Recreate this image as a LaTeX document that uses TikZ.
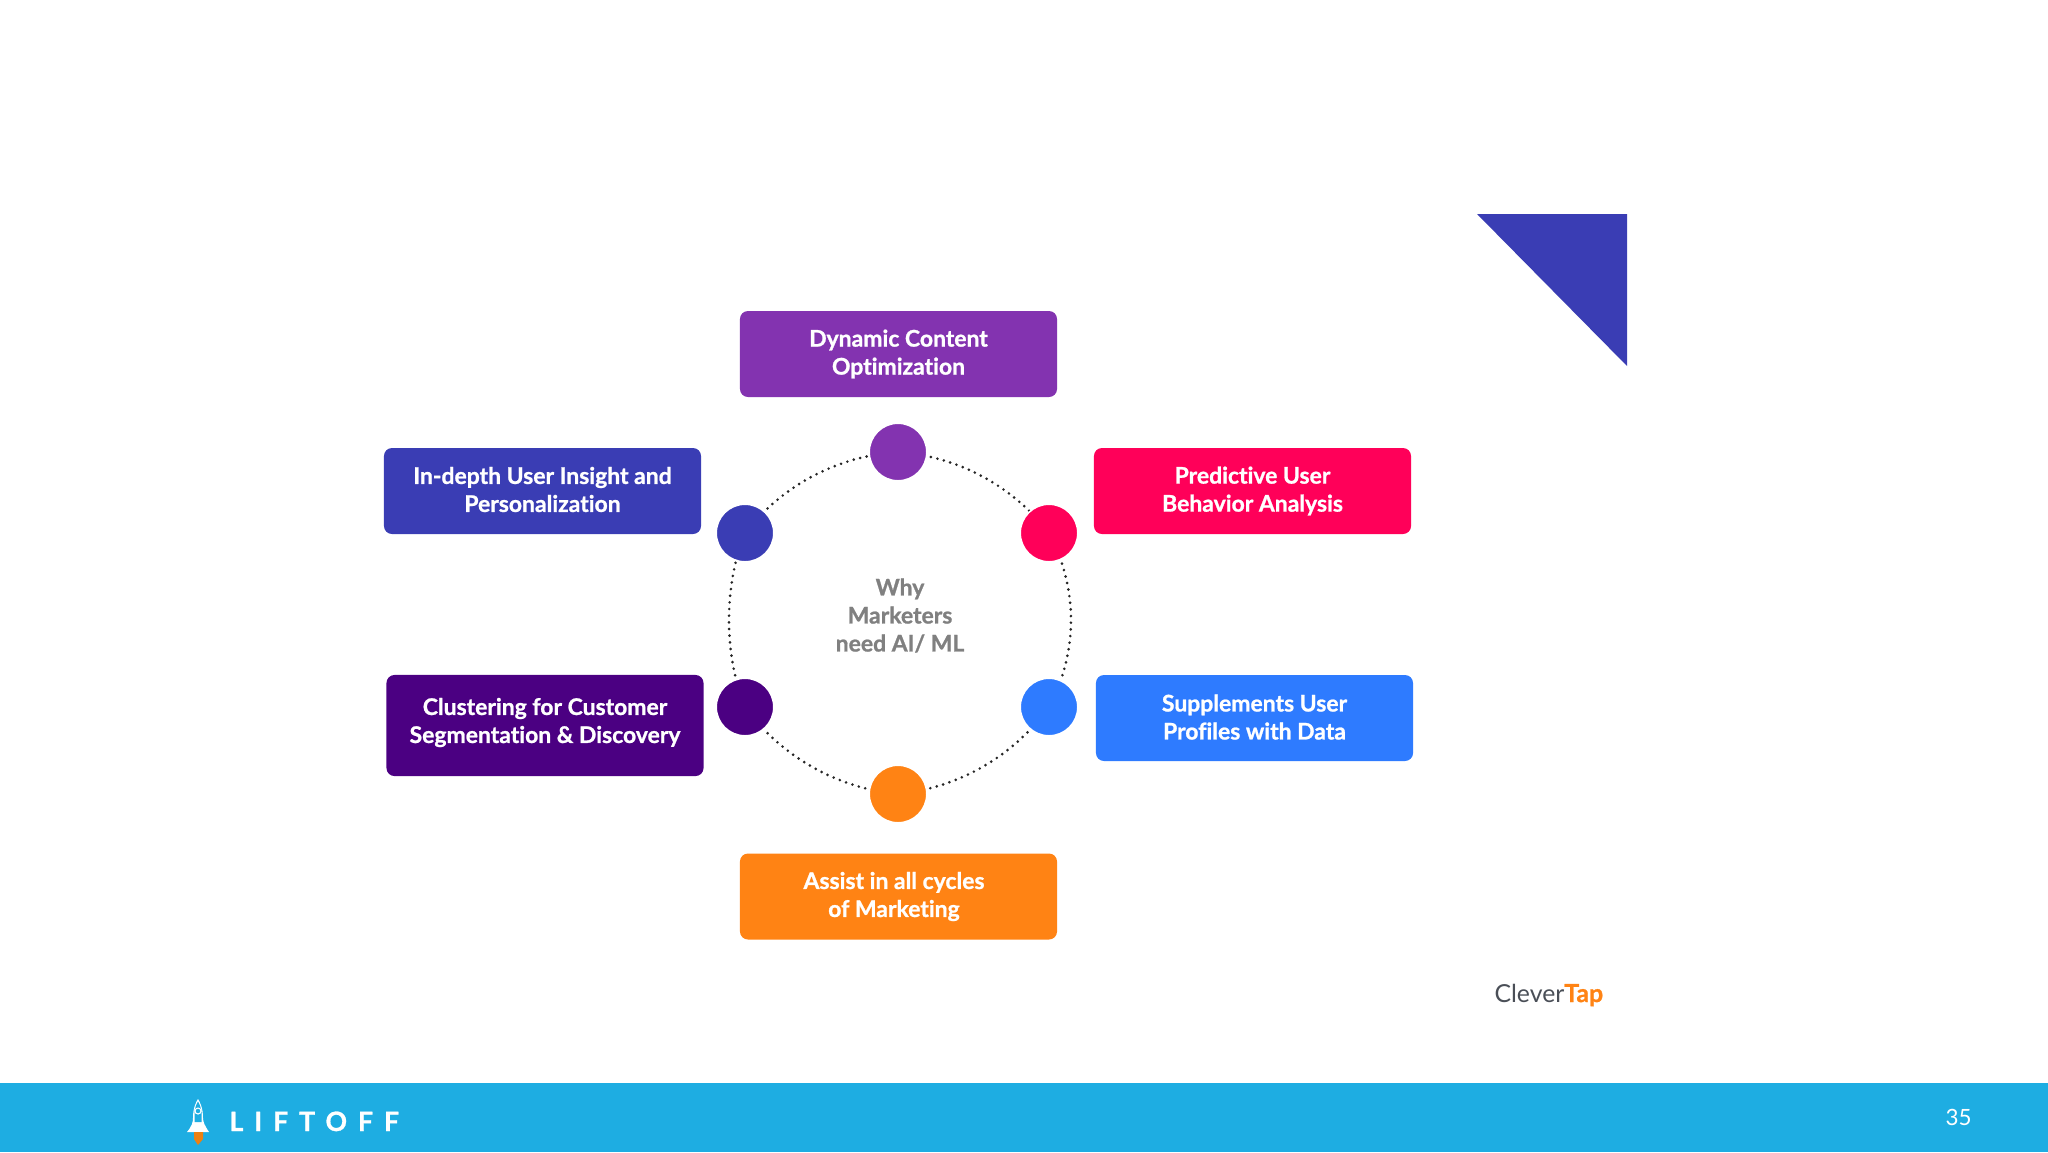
\documentclass[tikz,border=0pt]{standalone}
\usepackage{fontspec}
\setmainfont{Lato}[BoldFeatures={FakeBold=1},RawFeature=-liga]
\usetikzlibrary{backgrounds}
\definecolor{barblue}{HTML}{1EADE2}
\definecolor{cPurple}{HTML}{8333B0}
\definecolor{cIndigo}{HTML}{3A3DB4}
\definecolor{cRose}{HTML}{FF0059}
\definecolor{cViolet}{HTML}{4B0082}
\definecolor{cSky}{HTML}{2E7BFF}
\definecolor{cOrange}{HTML}{FF8314}
\definecolor{cGrey}{HTML}{808080}
\definecolor{cSlate}{HTML}{4A4F57}
\tikzset{
  boxnode/.style={rounded corners=3pt,minimum width=118.9pt,minimum height=32.25pt,inner sep=0pt,
    align=center,text=white,font=\fontsize{8.6}{10.5}\selectfont\bfseries},
  dotnode/.style={circle,minimum size=21.6pt,inner sep=0pt,draw=white,line width=0.6pt},
  ringarc/.style={black!85,line width=1.1pt,line cap=round,dash pattern=on 0pt off 2.5pt,bend left=24,looseness=0.9},
  ringside/.style={ringarc,bend left=22,looseness=0.84},
  ringwide/.style={ringarc,bend left=28,looseness=0.92},
}
\begin{document}
\begin{tikzpicture}[x=0.375pt,y=-0.375pt]
      \useasboundingbox (0,0) rectangle (2048,1152);
      \fill[barblue] (0,1083) rectangle (2048,1152);
      \fill[cIndigo] (1477,214) -- (1627,214) -- (1627,366) -- cycle;
      \draw
        (898.5,354) node[boxnode,fill=cPurple] (boxTop){Dynamic Content\\Optimization}
        (1252.5,491) node[boxnode,fill=cRose] (boxRose){Predictive User\\Behavior Analysis\rule[-0.6pt]{0pt}{0pt}}
        (1254.5,718) node[boxnode,fill=cSky] (boxSky){Supplements User\\Profiles with Data\rule[-0.8pt]{0pt}{0pt}}
        (898.5,896.5) node[boxnode,fill=cOrange] (boxOrange){Assist in all cycles\hspace*{3.4pt}\\of Marketing\hspace*{3.4pt}}
        (545,725.5) node[boxnode,fill=cViolet,minimum height=37.9pt] (boxViolet){Clustering for Customer\\Segmentation \& Discovery\rule[-3.8pt]{0pt}{0pt}}
        (542.5,491) node[boxnode,fill=cIndigo] (boxIndigo){In-depth User Insight and\\Personalization\rule[-1.2pt]{0pt}{0pt}};
      \draw
        (898,452) node[dotnode,fill=cPurple] (dotTop){}
        (1049,533) node[dotnode,fill=cRose] (dotRose){}
        (1049,707) node[dotnode,fill=cSky] (dotSky){}
        (898,794) node[dotnode,fill=cOrange] (dotOrange){}
        (745,707) node[dotnode,fill=cViolet] (dotViolet){}
        (745,533) node[dotnode,fill=cIndigo] (dotIndigo){};
      \begin{scope}[on background layer]
        \draw[ringarc] (dotTop.center) to (dotRose.center);
        \draw[ringwide] (dotRose.center) to (dotSky.center);
        \draw[ringarc] (dotSky.center) to (dotOrange.center);
        \draw[ringarc] (dotOrange.center) to (dotViolet.center);
        \draw[ringside] (dotViolet.center) to (dotIndigo.center);
        \draw[ringarc] (dotIndigo.center) to (dotTop.center);
      \end{scope}
      \node[align=center,text=cGrey,font=\fontsize{8.6}{10.5}\selectfont\bfseries] (whyText) at (900,615.5) {Why\\Marketers\\need AI/ ML};
      \node[anchor=base west,inner sep=0pt,font=\fontsize{9.3}{11}\selectfont] (tapText) at (1494,1002) {\textcolor{cSlate}{Clever}\textcolor{cOrange}{\bfseries Tap}};
      \node[anchor=base west,inner sep=0pt,text=white,font=\fontsize{10}{12}\selectfont\bfseries\addfontfeatures{LetterSpace=41}] (liftText) at (229,1131) {LIFTOFF};
      \node[text=white,font=\fontsize{8.4}{10}\selectfont] (pageText) at (1958.5,1117) {35};
      \fill[white] (187,1132) .. controls (192,1126) and (193,1122) .. (193,1118) .. controls (193,1108) and (196,1102) .. (198,1099) .. controls (200,1102) and (203,1108) .. (203,1118) .. controls (203,1122) and (205,1126) .. (209,1132) -- cycle;
      \fill[barblue] (194.5,1122) -- (194.5,1112) .. controls (195,1107) and (197,1103) .. (198,1101.5) .. controls (199,1103) and (201,1107) .. (201.5,1112) -- (201.5,1122) -- cycle;
      \draw[white,line width=0.4pt] (198,1111) circle (3);
      \fill[orange!70!brown] (194,1132) -- (203,1132) -- (203,1139) -- (198,1145) -- (194,1139) -- cycle;
    \end{tikzpicture}
\end{document}
